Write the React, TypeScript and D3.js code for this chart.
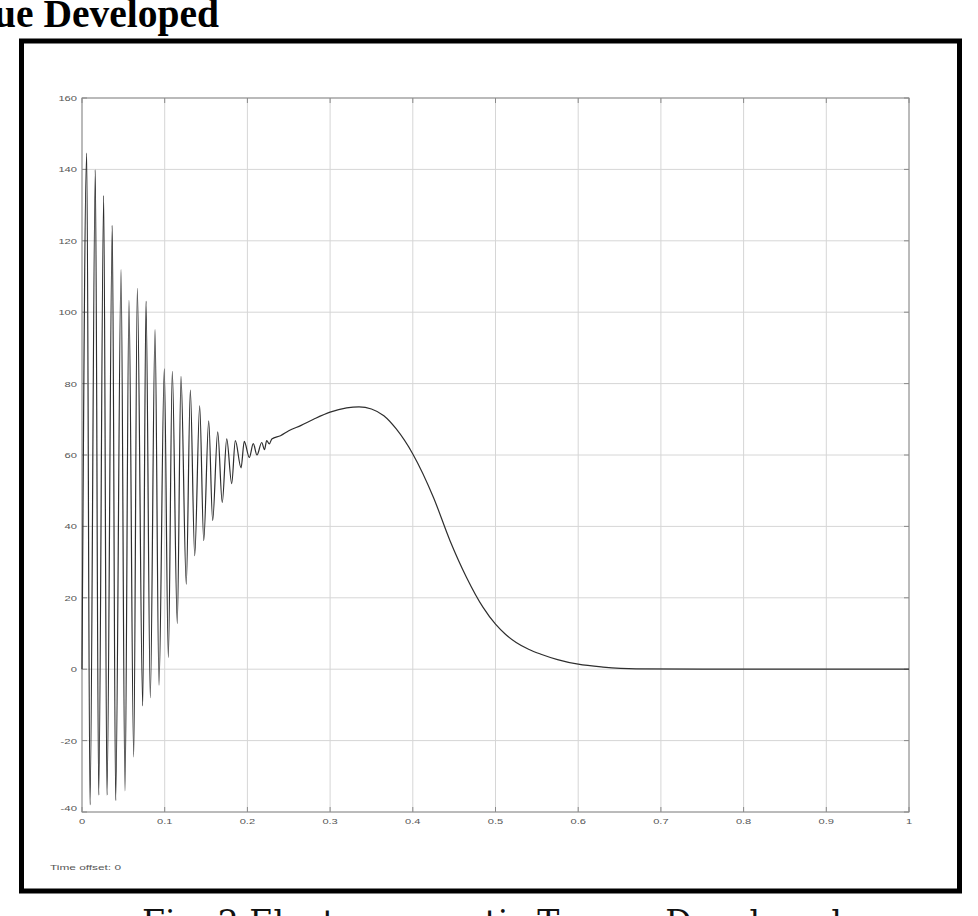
import * as d3 from 'd3';
import React from 'react';

// extrema of the starting oscillation
const peakTimes = [0.0057, 0.0161, 0.0262, 0.0366, 0.0472, 0.0568, 0.0669, 0.0774, 0.0883, 0.0995,
  0.1092, 0.1197, 0.131, 0.1423, 0.1532, 0.1641, 0.175, 0.1854, 0.1962, 0.2071, 0.2173, 0.2233];
const peakValues = [144.6, 139.9, 132.7, 124.3, 111.9, 103.3, 106.7, 103.1, 95.1, 84.1,
  83.4, 82.0, 78.2, 73.8, 69.6, 66.5, 64.5, 64.0, 63.8, 63.2, 63.5, 64.0];
const troughTimes = [0.0097, 0.0202, 0.0302, 0.0407, 0.052, 0.0625, 0.0734, 0.0826, 0.0931, 0.1044,
  0.1152, 0.1261, 0.1363, 0.1472, 0.158, 0.1696, 0.181, 0.1923, 0.2023, 0.2116, 0.2207, 0.2265];
const troughValues = [-38.0, -35.3, -35.3, -36.8, -34.1, -24.6, -10.3, -8.0, -4.5, 3.3,
  12.8, 23.8, 31.8, 36.0, 41.6, 46.7, 52.0, 56.4, 59.3, 60.0, 61.5, 63.1];
// the smooth part after the oscillation dies out
const smoothTimes = [0, 0.2295, 0.24, 0.25, 0.265, 0.28, 0.3, 0.32, 0.335, 0.35, 0.365, 0.38, 0.4,
  0.425, 0.445, 0.465, 0.485, 0.5, 0.512, 0.525, 0.54, 0.555, 0.575, 0.6, 0.63, 0.67, 0.75, 0.85, 1.0];
const smoothValues = [0, 64.5, 65.4, 66.8, 68.3, 70.0, 72.0, 73.2, 73.5, 72.9, 71.0, 67.3, 60.3,
  48.1, 36.0, 25.7, 17.3, 12.6, 9.8, 7.5, 5.6, 4.2, 2.7, 1.4, 0.6, 0.1, 0, 0, 0];

const xTicks = [0, 0.1, 0.2, 0.3, 0.4, 0.5, 0.6, 0.7, 0.8, 0.9, 1];
const yTicks = [-40, -20, 0, 20, 40, 60, 80, 100, 120, 140, 160];

const titleText = 'Electromagnetic Torque Developed';
const captionText = 'Fig. 2 Electromagnetic Torque Developed';
const offsetText = 'Time offset: 0';

// rough width of the stretched scope labels
function labelWidth(s: string) {
  let w = 0;
  for (const c of s) w += c === '.' ? 3 : c === '-' ? 4 : 6.2;
  return w;
}

export default function App() {
  const width = 978;
  const height = 916;
  const left = 82, right = 909, top = 98, bottom = 812;

  const x = d3.scaleLinear().domain([0, 1]).range([left, right]);
  const y = d3.scaleLinear().domain([-40, 160]).range([bottom, top]);

  const points: [number, number][] = [];
  peakTimes.forEach((t, i) => points.push([t, peakValues[i]]));
  troughTimes.forEach((t, i) => points.push([t, troughValues[i]]));
  smoothTimes.forEach((t, i) => points.push([t, smoothValues[i]]));
  points.sort((a, b) => a[0] - b[0]);

  const line = d3.line<[number, number]>()
    .x(d => x(d[0]))
    .y(d => y(d[1]))
    .curve(d3.curveMonotoneX);

  return (
    <div style={{ position: 'absolute', left: 0, top: 0 }}>
      <svg width={width} height={height} style={{ display: 'block', background: '#fff' }}>
        <text x={219} y={27} textAnchor="end" fontFamily="'Liberation Serif', serif"
          fontWeight="bold" fontSize={39.5} fill="#000">{titleText}</text>

        <rect x={21.5} y={41} width={938} height={850} fill="#fff" stroke="#000" strokeWidth={5} />

        {/* grid */}
        {xTicks.map(t => (
          <line key={'gx' + t} x1={x(t)} x2={x(t)} y1={top} y2={bottom} stroke="#d6d6d6" strokeWidth={1} />
        ))}
        {yTicks.map(t => (
          <line key={'gy' + t} x1={left} x2={right} y1={y(t)} y2={y(t)} stroke="#d6d6d6" strokeWidth={1} />
        ))}

        {/* tick marks on all four sides */}
        {xTicks.map(t => (
          <g key={'tx' + t} stroke="#8a8a8a" strokeWidth={1}>
            <line x1={x(t)} x2={x(t)} y1={bottom} y2={bottom - 5} />
            <line x1={x(t)} x2={x(t)} y1={top} y2={top + 5} />
          </g>
        ))}
        {yTicks.map(t => (
          <g key={'ty' + t} stroke="#8a8a8a" strokeWidth={1}>
            <line x1={left} x2={left + 5} y1={y(t)} y2={y(t)} />
            <line x1={right} x2={right - 5} y1={y(t)} y2={y(t)} />
          </g>
        ))}

        <rect x={left} y={top} width={right - left} height={bottom - top} fill="none" stroke="#8a8a8a" strokeWidth={1} />

        <path d={line(points) || ''} fill="none" stroke="#2e2e2e" strokeWidth={1.2} strokeLinejoin="round" />

        {/* tick labels */}
        {yTicks.map(t => (
          <text key={'ly' + t} x={77} y={y(t) + (t === -40 ? -1 : 3)} textAnchor="end"
            fontFamily="'Liberation Sans', Arial, sans-serif" fontSize={8} fill="#555"
            textLength={labelWidth(String(t))} lengthAdjust="spacingAndGlyphs">{String(t)}</text>
        ))}
        {xTicks.map(t => (
          <text key={'lx' + t} x={x(t)} y={bottom + 12} textAnchor="middle"
            fontFamily="'Liberation Sans', Arial, sans-serif" fontSize={8} fill="#555"
            textLength={labelWidth(String(t))} lengthAdjust="spacingAndGlyphs">{String(t)}</text>
        ))}

        <text x={50} y={870} fontFamily="'Liberation Sans', Arial, sans-serif" fontSize={8} fill="#555"
          textLength={71} lengthAdjust="spacingAndGlyphs">{offsetText}</text>

        <text x={142} y={934} fontFamily="'DejaVu Serif', serif" fontSize={34} fill="#111"
          textLength={700} lengthAdjust="spacingAndGlyphs">{captionText}</text>
      </svg>
    </div>
  );
}
